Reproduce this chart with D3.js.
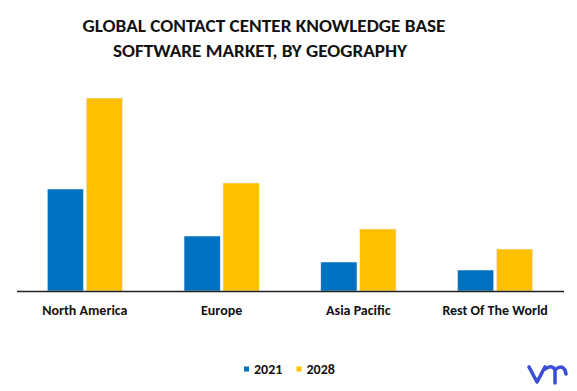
<!DOCTYPE html>
<html>
<head>
<meta charset="utf-8">
<script src="https://cdn.jsdelivr.net/npm/d3@7"></script>
<style>
  body { margin: 0; background: #fff; }
  text { font-family: Carlito, Lato, "Open Sans", sans-serif; font-weight: bold; fill: #111; }
</style>
</head>
<body>
<svg width="577" height="391"></svg>
<script>
// data (relative market size)
const regions = ["North America", "Europe", "Asia Pacific", "Rest Of The World"];
const years = ["2021", "2028"];
const values2021 = [102, 55, 29, 21];
const values2028 = [193, 108, 62, 42];
const colors = ["#0070C0", "#FFC000"];

let svg = d3.select("svg");

// title
let title = svg.append("g");
title.append("text")
  .attr("x", 264).attr("y", 31.7)
  .attr("text-anchor", "middle")
  .attr("font-size", 19)
  .attr("textLength", 363).attr("lengthAdjust", "spacingAndGlyphs")
  .text("GLOBAL CONTACT CENTER KNOWLEDGE BASE");
title.append("text")
  .attr("x", 260).attr("y", 56.7)
  .attr("text-anchor", "middle")
  .attr("font-size", 19)
  .attr("textLength", 294).attr("lengthAdjust", "spacingAndGlyphs")
  .text("SOFTWARE MARKET, BY GEOGRAPHY");

// scales
let x0 = d3.scaleBand()
  .domain(regions)
  .range([16.5, 563.5])
  .paddingInner(0.45)
  .paddingOuter(0.225);
let x1 = d3.scaleBand()
  .domain(years)
  .range([0, x0.bandwidth()])
  .paddingInner(0.07);
let y = d3.scaleLinear()
  .domain([0, 200])
  .range([291, 91]);
let color = d3.scaleOrdinal().domain(years).range(colors);

let rows = regions.map((r, i) => ({ region: r, vals: [
  { year: "2021", v: values2021[i] },
  { year: "2028", v: values2028[i] } ] }));

let groups = svg.append("g")
  .selectAll("g")
  .data(rows)
  .join("g")
    .attr("transform", d => "translate(" + x0(d.region) + ",0)");

groups.selectAll("rect")
  .data(d => d.vals)
  .join("rect")
    .attr("x", d => x1(d.year))
    .attr("y", d => y(d.v))
    .attr("width", x1.bandwidth())
    .attr("height", d => y(0) - y(d.v))
    .attr("fill", d => color(d.year))
    .attr("stroke", "#e8eef6")
    .attr("stroke-width", 0.6);

// x axis: baseline + labels, no ticks
let xAxis = svg.append("g")
  .attr("transform", "translate(0," + y(0) + ")")
  .call(d3.axisBottom(x0).tickSize(0).tickPadding(14));
xAxis.select(".domain").attr("stroke", "#222").attr("stroke-width", 1.3);
xAxis.selectAll("text")
  .attr("font-size", 14)
  .attr("font-family", "Carlito, Lato, 'Open Sans', sans-serif")
  .attr("font-weight", "bold")
  .attr("fill", "#111");

// legend
let legend = svg.append("g").attr("transform", "translate(244,369)");
let item = legend.selectAll("g")
  .data(years)
  .join("g")
    .attr("transform", (d, i) => "translate(" + (i * 52.5) + ",0)");
item.append("rect")
  .attr("x", 0).attr("y", -2.5)
  .attr("width", 5).attr("height", 5)
  .attr("fill", d => color(d));
item.append("text")
  .attr("x", 10).attr("dy", "0.35em")
  .attr("font-size", 14)
  .text(d => d);

// logo
svg.append("path")
  .attr("d", "M529,367 L537,382 L545,367 M545,369 Q552,364 555,370 L555,383 M555,370 Q561,364 565,370 L566,374")
  .attr("fill", "none")
  .attr("stroke", "#3b4fd6")
  .attr("stroke-width", 3.6)
  .attr("stroke-linecap", "round")
  .attr("stroke-linejoin", "round");
</script>
</body>
</html>
